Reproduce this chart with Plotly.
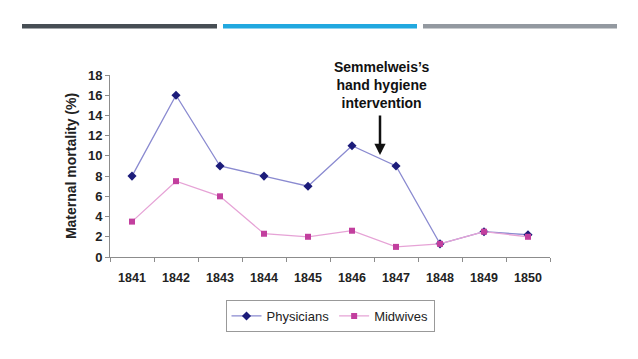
import plotly.graph_objects as go

years = ["1841", "1842", "1843", "1844", "1845", "1846", "1847", "1848", "1849", "1850"]
physicians = [8, 16, 9, 8, 7, 11, 9, 1.3, 2.5, 2.2]
midwives = [3.5, 7.5, 6.0, 2.3, 2.0, 2.6, 1.0, 1.3, 2.5, 2.0]
y_ticks = [0, 2, 4, 6, 8, 10, 12, 14, 16, 18]

OFF = 8  # default page body margin
W, H = 638 - OFF, 359 - OFF
# plot area in page pixels
PL, PR, PT, PB = 110, 550, 75, 257
L, R, T, B = PL - OFF, W - (PR - OFF), PT - OFF, H - (PB - OFF)
pw, ph = PR - PL, PB - PT

def px_x(p):
    return (p - PL) / pw

def px_y(p):
    return (PB - p) / ph

fig = go.Figure()
fig.add_trace(go.Scatter(
    x=years, y=physicians, name="Physicians", mode="lines+markers",
    line=dict(color="#8a8ad0", width=1.3),
    marker=dict(symbol="diamond", size=7, color="#1c1c7a"),
))
fig.add_trace(go.Scatter(
    x=years, y=midwives, name="Midwives", mode="lines+markers",
    line=dict(color="#e6a3d6", width=1.3),
    marker=dict(symbol="square", size=6, color="#c23f9e"),
))

font_main = "Liberation Sans, Arial, sans-serif"

fig.update_layout(
    width=W, height=H,
    margin=dict(l=L, r=R, t=T, b=B),
    paper_bgcolor="white", plot_bgcolor="white",
    showlegend=True,
    legend=dict(
        orientation="h", x=px_x(330), xanchor="center", y=px_y(300), yanchor="top",
        bordercolor="#999999", borderwidth=1,
        font=dict(family=font_main, size=13, color="#222222"),
        itemwidth=30, tracegroupgap=0,
    ),
    xaxis=dict(
        type="category", range=[-0.5, 9.5],
        showline=True, linecolor="#8c8c8c", linewidth=1,
        ticks="outside", tickson="boundaries", ticklen=4, tickcolor="#8c8c8c",
        showgrid=False, zeroline=False, ticklabelstandoff=9,
        tickfont=dict(family=font_main, size=12.5, color="#222222", weight="bold"),
    ),
    yaxis=dict(
        range=[0, 18], tickvals=y_ticks,
        showline=True, linecolor="#8c8c8c", linewidth=1,
        ticks="outside", ticklen=4, tickcolor="#8c8c8c",
        showgrid=False, zeroline=False,
        tickfont=dict(family=font_main, size=13, color="#222222", weight="bold"),
        title=dict(text="Maternal mortality (%)", standoff=8,
                   font=dict(family=font_main, size=14, color="#222222", weight="bold")),
    ),
)

# top decorative bars
bars = [(22, 217, "#474e54"), (223, 417, "#21a8df"), (423, 617, "#9399a0")]
for x0, x1, c in bars:
    fig.add_shape(type="rect", xref="paper", yref="paper",
                  x0=px_x(x0), x1=px_x(x1), y0=px_y(28.5), y1=px_y(24),
                  fillcolor=c, line=dict(width=0), layer="above")

# annotation text
fig.add_annotation(
    xref="paper", yref="paper", x=px_x(381), y=px_y(85),
    text="Semmelweis’s<br>hand hygiene<br>intervention", showarrow=False,
    font=dict(family=font_main, size=14, color="#111111", weight="bold"),
    align="center", xanchor="center", yanchor="middle",
)
# arrow
fig.add_annotation(
    xref="paper", yref="paper", x=px_x(380), y=px_y(155),
    ax=0, ay=-41, axref="pixel", ayref="pixel",
    text="", showarrow=True, arrowhead=2, arrowsize=0.9, arrowwidth=2.5,
    arrowcolor="#111111",
)

fig.write_html("out.html")
